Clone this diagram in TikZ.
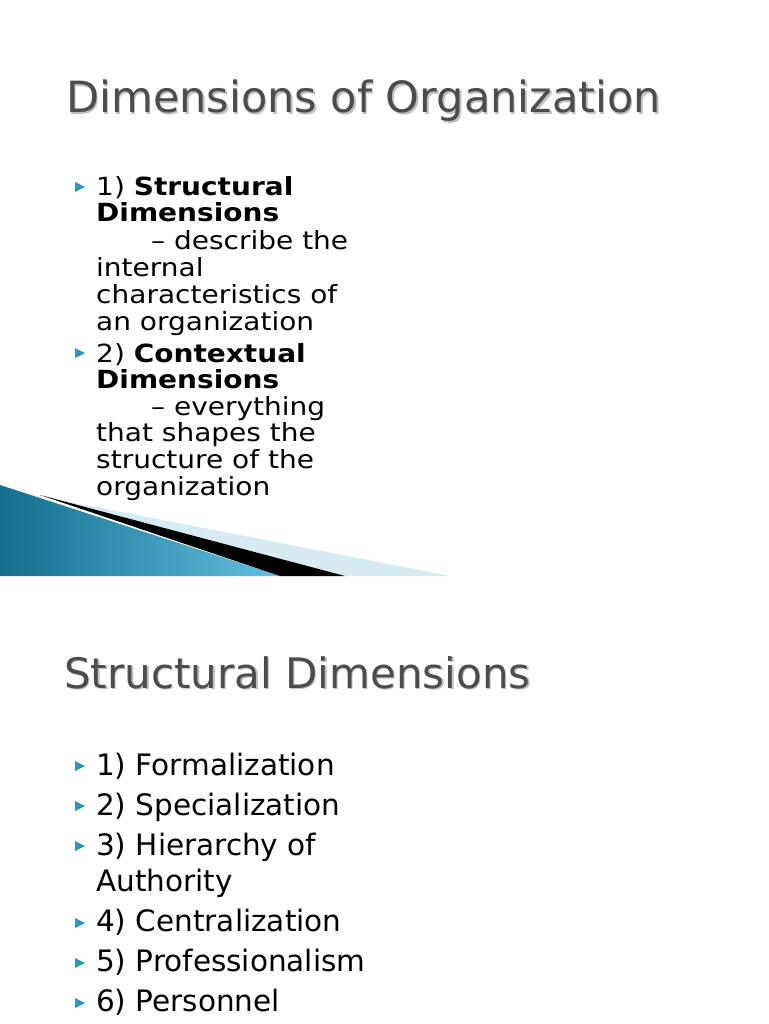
\documentclass[tikz,border=0pt]{standalone}
\usepackage{fontspec}
\setmainfont{DejaVu Sans}
\newfontfamily\widefont[FakeStretch=1.12]{DejaVu Sans}
\definecolor{bulc}{RGB}{40,150,190}
\definecolor{wdark}{RGB}{20,110,140}
\definecolor{wlight}{RGB}{100,190,225}
\definecolor{wpale}{RGB}{215,235,242}
\begin{document}
\begin{tikzpicture}[x=1pt,y=-1pt,
  ttl/.style={anchor=base west,inner sep=0,text=black!70},
  shd/.style={anchor=base west,inner sep=0,text=black!25},
  tA/.style={font=\fontsize{43}{45}\selectfont},
  tB/.style={font=\fontsize{42}{44}\selectfont},
  bod/.style={anchor=base west,inner sep=0,font=\widefont\fontsize{25}{27}\selectfont},
  bod2/.style={anchor=base west,inner sep=0,font=\fontsize{29.5}{32}\selectfont},
  bul/.style={fill=bulc,draw=none}]
\useasboundingbox (0,0) rectangle (768,1024);
\fill[white] (0,0) rectangle (768,1024);
% slide 1 wedge
\shade[left color=wdark,right color=wlight] (0,485) -- (280,576) -- (0,576) -- cycle;
\fill[wpale] (60,500) -- (450,576) -- (345,576) -- cycle;
\fill[black] (40,495) -- (345,576) -- (280,576) -- cycle;
% titles
\node[shd,tA] (t1s) at (67.5,114.5) {Dimensions of Organization};
\node[ttl,tA] (t1) at (66,113) {Dimensions of Organization};
\node[shd,tB] (t2s) at (65.5,689.5) {Structural Dimensions};
\node[ttl,tB] (t2) at (64,688) {Structural Dimensions};
% slide 1 bullets
\foreach \y in {189,355} \fill[bul] (75,\y-7) -- (85,\y-2) -- (75,\y+3) -- cycle;
\node[bod] (a1) at (96,196) {1) \textbf{Structural}};
\node[bod] (a2) at (96,222) {\textbf{Dimensions}};
\node[bod] (a3) at (96,249) {\hspace{2.2em}– describe the};
\node[bod] (a4) at (96,276) {internal};
\node[bod] (a5) at (96,303) {characteristics of};
\node[bod] (a6) at (96,330) {an organization};
\node[bod] (b1) at (96,362) {2) \textbf{Contextual}};
\node[bod] (b2) at (96,388) {\textbf{Dimensions}};
\node[bod] (b3) at (96,415) {\hspace{2.2em}– everything};
\node[bod] (b4) at (96,441) {that shapes the};
\node[bod] (b5) at (96,468) {structure of the};
\node[bod] (b6) at (96,495) {organization};
% slide 2
\foreach \y in {767,807,847,924,964,1004} \fill[bul] (75,\y-6) -- (85,\y-1) -- (75,\y+4) -- cycle;
\node[bod2] (c1) at (96,775) {1) Formalization};
\node[bod2] (c2) at (96,815) {2) Specialization};
\node[bod2] (c3) at (96,855) {3) Hierarchy of};
\node[bod2] (c3b) at (96,891) {Authority};
\node[bod2] (c4) at (96,931) {4) Centralization};
\node[bod2] (c5) at (96,971) {5) Professionalism};
\node[bod2] (c6) at (96,1011) {6) Personnel};
\end{tikzpicture}
\end{document}
